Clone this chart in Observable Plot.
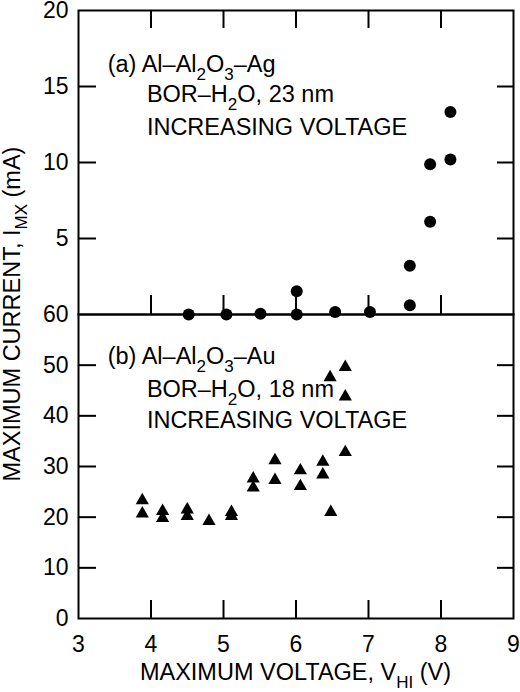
<!DOCTYPE html>
<html><head><meta charset="utf-8">
<script src="https://cdn.jsdelivr.net/npm/d3@7"></script>
<script src="https://cdn.jsdelivr.net/npm/@observablehq/plot@0.6"></script>
<style>
body{margin:0;background:#fff;}
#wrap{position:relative;width:520px;height:692px;overflow:hidden;background:#fff;}
#wrap svg{position:absolute;left:0;}
</style></head><body><div id="wrap"></div>
<script>
// Panel (a): Al–Al2O3–Ag, circles
const voltsA   = [4.52, 5.04, 5.51, 6.01, 6.01, 6.54, 7.02, 7.57, 7.57, 7.85, 7.85, 8.13, 8.13];
const currentA = [0.00, 0.00, 0.05, 0.00, 1.53, 0.17, 0.17, 0.61, 3.20, 6.10, 9.88, 10.2, 13.33];
// Panel (b): Al–Al2O3–Au, triangles
const voltsB   = [3.88, 3.88, 4.16, 4.16, 4.50, 4.50, 4.80, 5.11, 5.11, 5.41, 5.41, 5.71, 5.71, 6.06, 6.06, 6.37, 6.37, 6.48, 6.68, 6.47, 6.68, 6.68];
const currentB = [23.3, 20.7, 21.2, 19.8, 21.5, 20.2, 19.2, 21.0, 20.2, 27.6, 25.8, 31.2, 27.3, 29.2, 26.1, 30.9, 28.4, 21.0, 32.8, 47.6, 49.6, 43.8];

const xTickLabels = [3, 4, 5, 6, 7, 8, 9];
const xInnerTicks = [4, 5, 6, 7, 8];
const yTickLabelsA = [5, 10, 15, 20];
const yInnerTicksA = [5, 10, 15];
const yTickLabelsB = [0, 10, 20, 30, 40, 50, 60];
const yInnerTicksB = [10, 20, 30, 40, 50];

const annotationA = [
  {x: 3.41, y: 15.92, t: "(a) Al–Al_{2}O_{3}–Ag"},
  {x: 3.95, y: 13.95, t: "BOR–H_{2}O, 23 nm"},
  {x: 3.95, y: 11.78, t: "INCREASING VOLTAGE"}
];
const annotationB = [
  {x: 3.41, y: 50.1, t: "(b) Al–Al_{2}O_{3}–Au"},
  {x: 3.95, y: 43.7, t: "BOR–H_{2}O, 18 nm"},
  {x: 3.95, y: 37.5, t: "INCREASING VOLTAGE"}
];
const xLabel = "MAXIMUM VOLTAGE, V_{HI} (V)";
const yLabel = "MAXIMUM CURRENT, I_{MX} (mA)";

const dataA = voltsA.map((v, i) => ({v, i: currentA[i]}));
const dataB = voltsB.map((v, i) => ({v, i: currentB[i]}));

const font = "'Liberation Sans', Arial, Helvetica, sans-serif";
const tickFont = 23, textFont = 23.5, subFont = 17;
const common = {
  width: 520, marginLeft: 78, marginRight: 7,
  x: {domain: [3, 9], label: null},
  style: {background: "transparent", overflow: "visible", fontFamily: font, fontSize: tickFont + "px", color: "#000"}
};
const blank = () => "";

const bottom = Plot.plot({
  ...common, height: 378, marginTop: 0, marginBottom: 74,
  y: {domain: [0, 60], label: null},
  marks: [
    Plot.frame({stroke: "#000", strokeWidth: 2}),
    Plot.axisY(yTickLabelsB, {anchor: "left", tickSize: 0, tickPadding: 10, fontSize: tickFont, label: null}),
    Plot.axisY(yInnerTicksB, {anchor: "left", tickSize: -18, tickFormat: blank, strokeWidth: 2, label: null}),
    Plot.axisY(yInnerTicksB, {anchor: "right", tickSize: -17, tickFormat: blank, strokeWidth: 2, label: null}),
    Plot.axisX(xTickLabels, {anchor: "bottom", tickSize: 0, tickPadding: 17, fontSize: tickFont, label: null}),
    Plot.axisX(xInnerTicks, {anchor: "bottom", tickSize: -18, tickFormat: blank, strokeWidth: 2, label: null}),
    Plot.dot(dataB, {x: "v", y: "i", r: 4.9, symbol: "triangle", fill: "#000", stroke: "none"})
  ]
});
bottom.style.top = "314px";

const topPlot = Plot.plot({
  ...common, height: 314, marginTop: 10, marginBottom: 0,
  y: {domain: [0, 20], label: null},
  marks: [
    Plot.frame({stroke: "#000", strokeWidth: 2}),
    Plot.axisY(yTickLabelsA, {anchor: "left", tickSize: 0, tickPadding: 10, fontSize: tickFont, label: null}),
    Plot.axisY(yInnerTicksA, {anchor: "left", tickSize: -18, tickFormat: blank, strokeWidth: 2, label: null}),
    Plot.axisY(yInnerTicksA, {anchor: "right", tickSize: -17, tickFormat: blank, strokeWidth: 2, label: null}),
    Plot.axisX(xInnerTicks, {anchor: "top", tickSize: -17, tickFormat: blank, strokeWidth: 2, label: null}),
    Plot.axisX(xInnerTicks, {anchor: "bottom", tickSize: -19, tickFormat: blank, strokeWidth: 2, label: null}),
    Plot.dot(dataA, {x: "v", y: "i", r: 6, fill: "#000", stroke: "none"})
  ]
});
topPlot.style.top = "0px";

const wrap = document.getElementById("wrap");
wrap.appendChild(bottom);
wrap.appendChild(topPlot);

// rich text with _{sub} markup
function richText(sel, str, subSize, shift) {
  const parts = str.split(/_\{([^}]*)\}/);
  parts.forEach((p, k) => {
    if (p === "") return;
    const sub = k % 2 === 1;
    const ts = sel.append("tspan").text(p);
    if (sub) ts.attr("font-size", subSize).attr("dy", shift);
    else if (k > 0) ts.attr("dy", -shift);
  });
}

function annotate(fig, lines) {
  const sx = fig.scale("x"), sy = fig.scale("y");
  const g = d3.select(fig).append("g").attr("font-family", font).attr("font-size", textFont).attr("fill", "#000");
  lines.forEach(l => {
    const t = g.append("text").attr("x", sx.apply(l.x)).attr("y", sy.apply(l.y)).attr("text-anchor", "start");
    richText(t, l.t, subFont, 8);
  });
}
annotate(topPlot, annotationA);
annotate(bottom, annotationB);

// axis titles overlay
const ov = d3.select(wrap).append("svg").attr("width", 520).attr("height", 692)
  .style("top", "0px").style("pointer-events", "none").style("overflow", "visible")
  .attr("font-family", font).attr("font-size", textFont).attr("fill", "#000");
const xl = ov.append("text").attr("x", (78 + 513) / 2).attr("y", 680).attr("text-anchor", "middle");
richText(xl, xLabel, subFont, 8);
const yl = ov.append("text").attr("transform", "translate(20,314) rotate(-90)").attr("text-anchor", "middle");
richText(yl, yLabel, subFont, 7);
</script></body></html>
